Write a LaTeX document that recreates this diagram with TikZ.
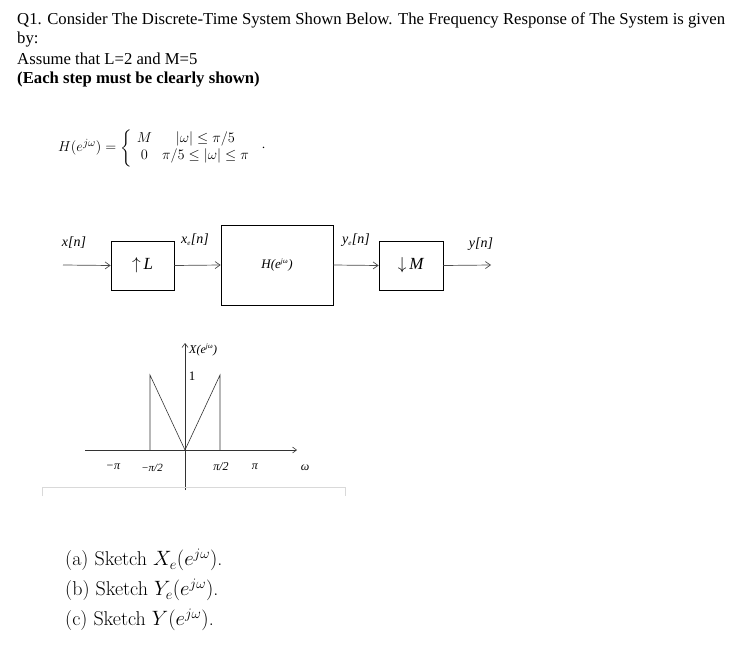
\documentclass[tikz,border=0pt]{standalone}
\usepackage{fontspec}
\usepackage{amsmath,amssymb}
\newfontfamily\tnr{Liberation Serif}
\usetikzlibrary{arrows.meta}
\begin{document}
\begin{tikzpicture}[x=1pt,y=-1pt,
  sig/.style={draw=black!70,line width=0.7pt,-{Straight Barb[length=5pt,width=7pt]}},
  tx/.style={font=\tnr\fontsize{16.7}{18}\selectfont,anchor=west,inner sep=0pt},
  lab/.style={font=\tnr\itshape\fontsize{14}{16}\selectfont,inner sep=0pt},
  ax/.style={draw=black!80,line width=0.6pt}]
\useasboundingbox (0,0) rectangle (735,655);
\node[tx] (t1) at (17,20) {Q1. Consider The Discrete-Time System Shown Below. The Frequency Response of The System is given};
\node[tx] (t2) at (17,40) {by:};
\node[tx] (t3) at (17,59) {Assume that L=2 and M=5};
\node[tx,font=\tnr\bfseries\fontsize{16.7}{18}\selectfont] (t4) at (17,80) {(Each step must be clearly shown)};
\node[anchor=west,inner sep=0pt,font=\fontsize{15.5}{17}\selectfont] (eq) at (58,148) {$H(e^{j\omega})=\left\{\begin{array}{cc}M & |\omega|\le\pi/5\\ 0 & \pi/5\le|\omega|\le\pi\end{array}\right.\;\cdot$};
% blocks
\node[draw,line width=0.7pt,minimum width=63pt,minimum height=49pt,font=\tnr\fontsize{17}{19}\selectfont] (up) at (142.5,265.5) {$\uparrow$\,\textit{L}};
\node[draw,line width=0.7pt,minimum width=112pt,minimum height=80pt,font=\tnr\itshape\fontsize{13}{15}\selectfont] (h) at (277,265) {H(e\textsuperscript{\scriptsize jω})};
\node[draw,line width=0.7pt,minimum width=64pt,minimum height=49pt,font=\tnr\fontsize{17}{19}\selectfont] (dn) at (411,265.5) {$\downarrow$\,\textit{M}};
\coordinate (in) at (63,265);
\coordinate (out) at (491,265);
\draw[sig] (in) -- (up.west);
\draw[sig] (up.east) -- (h.west);
\draw[sig] (h.east) -- (dn.west);
\draw[sig] (dn.east) -- (out);
\node[lab] (lx) at (74,243) {x[n]};
\node[lab] (lxe) at (195,240) {x\textsubscript{\scriptsize e}[n]};
\node[lab] (lye) at (356,240) {y\textsubscript{\scriptsize e}[n]};
\node[lab] (ly) at (481,244) {y[n]};
% plot
\coordinate (o) at (185,450);
\coordinate (xl) at (85,450);
\coordinate (xr) at (297,450);
\coordinate (yb) at (185,490);
\coordinate (yt) at (185,343);
\draw[ax,-{Straight Barb[length=4pt,width=6pt]}] (xl) -- (xr);
\draw[ax,-{Straight Barb[length=4pt,width=6pt]}] (yb) -- (yt);
\draw[ax] (150,450) -- (150,375) -- (o) -- (220,375) -- (220,450);
\node[lab,anchor=west,font=\tnr\itshape\fontsize{12}{14}\selectfont] (xlab) at (189,350) {X(e\textsuperscript{\scriptsize jω})};
\node[lab,font=\tnr\fontsize{13}{15}\selectfont] (one) at (192,376) {1};
\node[lab,font=\tnr\itshape\fontsize{12}{14}\selectfont] (m1) at (113,467) {−π};
\node[lab,font=\tnr\itshape\fontsize{11}{14}\selectfont] (m2) at (152,468) {−π/2};
\node[lab,font=\tnr\itshape\fontsize{12}{14}\selectfont] (p2) at (221,467) {π/2};
\node[lab,font=\tnr\itshape\fontsize{12}{14}\selectfont] (p1) at (255,467) {π};
\node[lab,font=\tnr\itshape\fontsize{12}{14}\selectfont] (w) at (305,468) {ω};
\draw[black!15,line width=0.8pt] (42,496) -- (42,487) -- (345,487) -- (345,496);
% questions
\node[anchor=west,inner sep=0pt,font=\fontsize{20}{22}\selectfont] (qa) at (65,560) {(a) Sketch $X_e(e^{j\omega})$.};
\node[anchor=west,inner sep=0pt,font=\fontsize{20}{22}\selectfont] (qb) at (65,590) {(b) Sketch $Y_e(e^{j\omega})$.};
\node[anchor=west,inner sep=0pt,font=\fontsize{20}{22}\selectfont] (qc) at (65,620) {(c) Sketch $Y(e^{j\omega})$.};
\end{tikzpicture}
\end{document}
